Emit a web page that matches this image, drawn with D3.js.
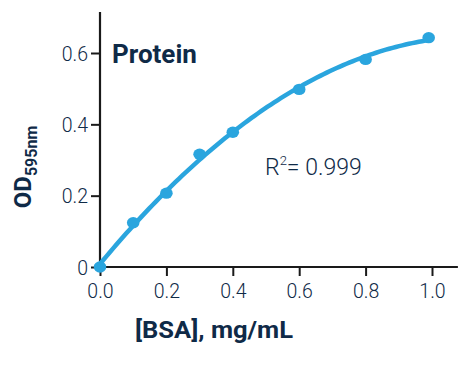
<!DOCTYPE html>
<html>
<head>
<meta charset="utf-8">
<script src="https://cdn.jsdelivr.net/npm/d3@7"></script>
<style>
  html, body { margin: 0; padding: 0; background: #fff; }
  svg { display: block; }
</style>
</head>
<body>
<svg id="chart" width="474" height="379"></svg>
<script>
// ---- data ----
const bsaConc = [0, 0.1, 0.2, 0.3, 0.4, 0.6, 0.8, 0.99];
const odValues = [0.0, 0.124, 0.207, 0.316, 0.378, 0.498, 0.582, 0.643];
const xTicks = [0, 0.2, 0.4, 0.6, 0.8, 1.0];
const xTickLabels = ["0.0", "0.2", "0.4", "0.6", "0.8", "1.0"];
const yTicks = [0, 0.2, 0.4, 0.6];
const yTickLabels = ["0", "0.2", "0.4", "0.6"];
const seriesName = "Protein";
const r2Text = "0.999";

// ---- layout ----
const svg = d3.select("#chart");
const x = d3.scaleLinear().domain([0, 1]).range([100, 432]);
const y = d3.scaleLinear().domain([0, 0.6]).range([267, 53]);
const xEnd = 1.078, yTop = 0.715;
const textColor = "#0f2a47";
const lineColor = "#2aa5de";

// axes
const xAxis = d3.axisBottom(x).tickValues(xTicks).tickFormat((d, i) => xTickLabels[i]).tickSize(9).tickSizeOuter(0);
const yAxis = d3.axisLeft(y).tickValues(yTicks).tickFormat((d, i) => yTickLabels[i]).tickSize(9).tickSizeOuter(0);

const gx = svg.append("g").attr("transform", `translate(0,${y(0)})`).call(xAxis);
const gy = svg.append("g").attr("transform", `translate(${x(0)},0)`).call(yAxis);
gx.select(".domain").attr("d", `M${x(0)},0H${x(xEnd)}`);
gy.select(".domain").attr("d", `M0,${y(0)}V${y(yTop)}`);
[gx, gy].forEach(g => {
  g.selectAll(".domain").attr("stroke", "#1a1a1a").attr("stroke-width", 2.2);
  g.selectAll(".tick line").attr("stroke", "#1a1a1a").attr("stroke-width", 2);
  g.selectAll(".tick text").attr("fill", textColor)
    .style("font-family", "Roboto, 'Open Sans', sans-serif")
    .style("font-size", "19.5px").style("font-weight", 300);
});
gx.selectAll(".tick text").attr("dy", 0).attr("y", 31);
gy.selectAll(".tick text").attr("x", -12).attr("dy", "0.36em");

// quadratic least-squares fit through the measured points (display trend line)
function quadFit(xs, ys) {
  let S = [[0,0,0],[0,0,0],[0,0,0]], T = [0,0,0];
  xs.forEach((xv, i) => {
    const p = [1, xv, xv*xv];
    for (let a = 0; a < 3; a++) { T[a] += p[a]*ys[i]; for (let b = 0; b < 3; b++) S[a][b] += p[a]*p[b]; }
  });
  const M = S.map((r, i) => r.concat([T[i]]));
  for (let c = 0; c < 3; c++) {
    let piv = c; for (let r = c+1; r < 3; r++) if (Math.abs(M[r][c]) > Math.abs(M[piv][c])) piv = r;
    [M[c], M[piv]] = [M[piv], M[c]];
    for (let r = 0; r < 3; r++) if (r !== c) { const f = M[r][c]/M[c][c]; for (let k = c; k < 4; k++) M[r][k] -= f*M[c][k]; }
  }
  return M.map((r, i) => r[3]/r[i]);
}
const coef = quadFit(bsaConc, odValues);
const xs = d3.range(0, 101).map(i => bsaConc[bsaConc.length-1] * i / 100);
const fitLine = d3.line().x(d => x(d)).y(d => y(coef[0] + coef[1]*d + coef[2]*d*d)).curve(d3.curveBasis);

svg.append("path").attr("d", fitLine(xs))
  .attr("fill", "none").attr("stroke", lineColor).attr("stroke-width", 4.5).attr("stroke-linecap", "round");

svg.append("g").selectAll("ellipse").data(bsaConc).join("ellipse")
  .attr("cx", d => x(d)).attr("cy", (d, i) => y(odValues[i])).attr("rx", 6.3).attr("ry", 5.7)
  .attr("fill", lineColor);

// texts
svg.append("text").attr("x", 112).attr("y", 63).text(seriesName)
  .attr("fill", textColor).style("font-family", "Roboto, sans-serif")
  .style("font-size", "26px").style("font-weight", 700);

const r2 = svg.append("text").attr("x", 265).attr("y", 175).attr("fill", textColor)
  .style("font-family", "Roboto, sans-serif").style("font-size", "23px").style("font-weight", 300);
r2.append("tspan").text("R");
r2.append("tspan").text("2").attr("dy", -10).style("font-size", "13px");
r2.append("tspan").text("= " + r2Text).attr("dy", 10);

svg.append("text").attr("x", 135).attr("y", 338)
  .attr("textLength", 158).attr("lengthAdjust", "spacingAndGlyphs")
  .text("[BSA], mg/mL").attr("fill", textColor).style("font-family", "Roboto, sans-serif")
  .style("font-size", "24px").style("font-weight", 700);

const yl = svg.append("text").attr("transform", "translate(31,167) rotate(-90)").attr("text-anchor", "middle")
  .attr("fill", textColor).style("font-family", "Roboto, sans-serif").style("font-weight", 700).style("font-size", "24px");
yl.append("tspan").text("OD");
yl.append("tspan").text("595nm").attr("dy", 6).style("font-size", "16px");
</script>
</body>
</html>
